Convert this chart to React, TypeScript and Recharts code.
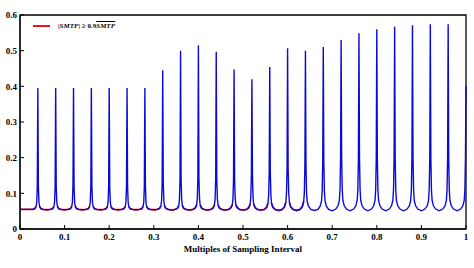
import { Legend, Line, LineChart, ReferenceArea, XAxis, YAxis } from "recharts"

const xTicks = [0, 0.1, 0.2, 0.3, 0.4, 0.5, 0.6, 0.7, 0.8, 0.9, 1]
const yTicks = [0, 0.1, 0.2, 0.3, 0.4, 0.5, 0.6]

// centre of each spike (multiples of the sampling interval) and its height
const peakPositions = [
  0.04, 0.08, 0.12, 0.16, 0.2, 0.24, 0.28, 0.32, 0.36, 0.4, 0.44, 0.48, 0.52,
  0.56, 0.6, 0.64, 0.68, 0.72, 0.76, 0.8, 0.84, 0.88, 0.92, 0.96, 1,
]
const peakHeights = [
  0.395, 0.395, 0.395, 0.395, 0.395, 0.395, 0.395, 0.445, 0.5, 0.515, 0.497,
  0.447, 0.42, 0.454, 0.507, 0.5, 0.51, 0.53, 0.549, 0.56, 0.567, 0.571, 0.574,
  0.574, 0.4,
]

// distance from a spike centre, and the deviation read at that distance
const flankOffsets = [0.0012, 0.0025, 0.004, 0.007, 0.012]
const flankValues = [
  [0.12, 0.075, 0.063, 0.057, 0.055],
  [0.12, 0.075, 0.063, 0.057, 0.055],
  [0.12, 0.075, 0.063, 0.057, 0.055],
  [0.12, 0.075, 0.063, 0.057, 0.055],
  [0.12, 0.075, 0.063, 0.057, 0.055],
  [0.12, 0.075, 0.063, 0.057, 0.055],
  [0.12, 0.075, 0.063, 0.057, 0.055],
  [0.13, 0.08, 0.065, 0.058, 0.055],
  [0.14, 0.082, 0.066, 0.058, 0.055],
  [0.14, 0.085, 0.067, 0.059, 0.055],
  [0.14, 0.085, 0.068, 0.059, 0.055],
  [0.14, 0.085, 0.068, 0.06, 0.055],
  [0.15, 0.09, 0.07, 0.06, 0.055],
  [0.16, 0.095, 0.072, 0.061, 0.055],
  [0.17, 0.1, 0.075, 0.062, 0.055],
  [0.18, 0.1, 0.077, 0.063, 0.055],
  [0.19, 0.105, 0.078, 0.064, 0.055],
  [0.2, 0.11, 0.08, 0.065, 0.056],
  [0.2, 0.11, 0.08, 0.065, 0.056],
  [0.2, 0.11, 0.08, 0.065, 0.056],
  [0.2, 0.11, 0.08, 0.065, 0.056],
  [0.2, 0.11, 0.08, 0.065, 0.056],
  [0.2, 0.11, 0.08, 0.065, 0.056],
  [0.2, 0.11, 0.08, 0.065, 0.056],
  [0.2, 0.11, 0.08, 0.065, 0.056],
]

// bottom of each valley: before the first spike, then between spikes
const valleyValues = [
  0.055, 0.054, 0.054, 0.054, 0.054, 0.054, 0.054, 0.054, 0.053, 0.053, 0.053,
  0.053, 0.053, 0.053, 0.052, 0.052, 0.052, 0.051, 0.051, 0.051, 0.051, 0.051,
  0.051, 0.051, 0.051,
]

// |SMTF| >= 0.9 SMTF holds in the valleys up to about here
const redLimit = 0.64

type Point = { x: number; dev: number; red: number | null }

function buildData(): Point[] {
  const pts: { x: number; dev: number; valley: boolean }[] = []
  pts.push({ x: 0, dev: valleyValues[0], valley: true })
  peakPositions.forEach((p, i) => {
    const prev = i === 0 ? 0 : peakPositions[i - 1]
    if (i > 0) pts.push({ x: (prev + p) / 2, dev: valleyValues[i], valley: true })
    for (let k = flankOffsets.length - 1; k >= 0; k--) {
      pts.push({ x: p - flankOffsets[k], dev: flankValues[i][k], valley: k >= 2 })
    }
    pts.push({ x: p, dev: peakHeights[i], valley: false })
    if (p < 1) {
      for (let k = 0; k < flankOffsets.length; k++) {
        pts.push({ x: p + flankOffsets[k], dev: flankValues[i][k], valley: k >= 2 })
      }
    }
  })
  return pts.map((d) => ({
    x: d.x,
    dev: d.dev,
    red: d.valley && d.x <= redLimit ? d.dev : null,
  }))
}

const data = buildData()

const font = '"Liberation Serif", "Times New Roman", serif'
const tickStyle = { fontSize: 9, fontWeight: 700, fill: "#000", fontFamily: font }
const frame = { stroke: "#000", strokeWidth: 1 }

function LegendBox() {
  return (
    <div
      style={{
        display: "flex",
        alignItems: "center",
        fontFamily: font,
        fontSize: 7,
        fontWeight: 700,
        fontStyle: "italic",
        color: "#000",
      }}
    >
      <div style={{ width: 17, height: 2, background: "#e41a1c", marginRight: 8 }} />
      <span>
        |SMTF|{" "}
        <span style={{ fontStyle: "normal" }}>≥ 0.9</span>
        <span style={{ textDecoration: "overline" }}>SMTF</span>
      </span>
    </div>
  )
}

export default function App() {
  return (
    <div style={{ position: "absolute", left: 0, top: 0, width: 474, height: 268, background: "#fff" }}>
      <LineChart width={474} height={268} data={data} margin={{ top: 15, right: 8, bottom: 0, left: 0 }}>
        <XAxis
          dataKey="x"
          type="number"
          domain={[0, 1]}
          ticks={xTicks}
          height={31}
          tickSize={-4}
          tickMargin={9}
          tick={tickStyle}
          axisLine={frame}
          tickLine={frame}
          label={{
            value: "Multiples of Sampling Interval",
            position: "insideBottom",
            offset: 8,
            style: { fontSize: 9, fontWeight: 700, fill: "#000", fontFamily: font },
          }}
        />
        <XAxis
          xAxisId="top"
          orientation="top"
          dataKey="x"
          type="number"
          domain={[0, 1]}
          ticks={xTicks}
          height={0}
          tickSize={-4}
          tickFormatter={() => ""}
          axisLine={frame}
          tickLine={frame}
          label={{
            value: "Spectral Relative Deviation",
            position: "top",
            offset: 6,
            style: { fontSize: 9.5, fontWeight: 700, fill: "#000", fontFamily: font },
          }}
        />
        <YAxis
          type="number"
          domain={[0, 0.6]}
          ticks={yTicks}
          width={20}
          tickSize={-4}
          tickMargin={7}
          tick={tickStyle}
          axisLine={frame}
          tickLine={frame}
          allowDataOverflow
        />
        <YAxis
          yAxisId="right"
          orientation="right"
          type="number"
          domain={[0, 0.6]}
          ticks={yTicks}
          width={0}
          tickSize={-4}
          tickFormatter={() => ""}
          axisLine={frame}
          tickLine={frame}
        />
        <Legend content={() => <LegendBox />} wrapperStyle={{ top: 22, left: 33, width: "auto" }} />
        <Line
          dataKey="red"
          type="linear"
          stroke="#e41a1c"
          strokeWidth={1.8}
          dot={false}
          isAnimationActive={false}
          connectNulls={false}
        />
        <Line
          dataKey="dev"
          type="linear"
          stroke="#0a0ad8"
          strokeWidth={1.4}
          dot={false}
          isAnimationActive={false}
        />
        <ReferenceArea
          x1={0}
          x2={1}
          y1={0}
          y2={0.6}
          fill="none"
          fillOpacity={0}
          stroke="#000"
          strokeWidth={1.3}
          strokeOpacity={1}
        />
      </LineChart>
    </div>
  )
}
